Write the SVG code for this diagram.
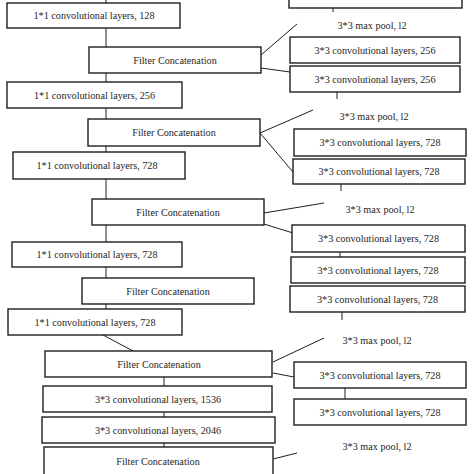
<svg xmlns="http://www.w3.org/2000/svg" width="474" height="474" viewBox="0 0 474 474">
<style>
.box{fill:#fff;stroke:#1e1e1e;stroke-width:1.4}
.t{font-family:"Liberation Serif","Times New Roman",serif;font-size:10.2px;fill:#1e1e1e;text-anchor:middle}
.c line{stroke:#1e1e1e;stroke-width:1}
</style>
<rect width="474" height="474" fill="#fff"/>
<g class="c" id="connectors">
<line x1="106" y1="0" x2="106" y2="3"/>
<line x1="106" y1="28" x2="106" y2="47"/>
<line x1="106" y1="73" x2="106" y2="82"/>
<line x1="106" y1="108" x2="106" y2="119"/>
<line x1="106" y1="146" x2="106" y2="152"/>
<line x1="106" y1="179" x2="106" y2="199"/>
<line x1="106" y1="225" x2="106" y2="242"/>
<line x1="106" y1="267" x2="106" y2="278"/>
<line x1="106" y1="304" x2="106" y2="309"/>
<line x1="103" y1="335" x2="133" y2="351"/>
<line x1="164" y1="377" x2="164" y2="386"/>
<line x1="164" y1="412" x2="164" y2="417"/>
<line x1="164" y1="443" x2="164" y2="447"/>
<line x1="333" y1="8" x2="333" y2="12"/>
<line x1="337" y1="92" x2="337" y2="99"/>
<line x1="341" y1="184" x2="341" y2="191"/>
<line x1="340" y1="252" x2="340" y2="257"/>
<line x1="342" y1="312" x2="342" y2="320"/>
<line x1="345" y1="388" x2="345" y2="399"/>
<line x1="261" y1="55" x2="297" y2="24"/>
<line x1="261" y1="68" x2="290" y2="72"/>
<line x1="260" y1="133" x2="313" y2="110"/>
<line x1="260" y1="133" x2="293" y2="172"/>
<line x1="264" y1="213" x2="324" y2="203"/>
<line x1="264" y1="224" x2="293" y2="233"/>
<line x1="273" y1="362" x2="324" y2="338"/>
<line x1="273" y1="373" x2="294" y2="377"/>
<line x1="273" y1="459" x2="297" y2="453"/>
</g>
<g id="top-right"><rect class="box" x="289" y="-20" width="173" height="28"/></g>
<g id="conv1x1-128"><rect class="box" x="7" y="3" width="173" height="25"/><text class="t" x="94" y="19">1*1 convolutional layers, 128</text></g>
<g id="fc1"><rect class="box" x="89" y="47" width="172" height="26"/><text class="t" x="175" y="63.5">Filter Concatenation</text></g>
<g id="conv1x1-256"><rect class="box" x="7" y="82" width="175" height="26"/><text class="t" x="94.5" y="98.5">1*1 convolutional layers, 256</text></g>
<g id="pool1"><text class="t" x="372" y="28.5">3*3 max pool, l2</text></g>
<g id="conv3x3-256a"><rect class="box" x="290" y="37" width="170" height="26"/><text class="t" x="375" y="53.5">3*3 convolutional layers, 256</text></g>
<g id="conv3x3-256b"><rect class="box" x="290" y="66" width="170" height="26"/><text class="t" x="375" y="82.5">3*3 convolutional layers, 256</text></g>
<g id="pool2"><text class="t" x="374" y="119.5">3*3 max pool, l2</text></g>
<g id="fc2"><rect class="box" x="88" y="119" width="172" height="27"/><text class="t" x="174" y="136">Filter Concatenation</text></g>
<g id="conv1x1-728a"><rect class="box" x="13" y="152" width="172" height="27"/><text class="t" x="97" y="169">1*1 convolutional layers, 728</text></g>
<g id="fc3"><rect class="box" x="92" y="199" width="172" height="26"/><text class="t" x="178" y="215.5">Filter Concatenation</text></g>
<g id="conv3x3-728-1"><rect class="box" x="294" y="129" width="172" height="27"/><text class="t" x="380" y="146">3*3 convolutional layers, 728</text></g>
<g id="conv3x3-728-2"><rect class="box" x="293" y="159" width="172" height="25"/><text class="t" x="379" y="175">3*3 convolutional layers, 728</text></g>
<g id="pool3"><text class="t" x="380" y="212.5">3*3 max pool, l2</text></g>
<g id="conv3x3-728-3"><rect class="box" x="292" y="225" width="173" height="27"/><text class="t" x="378.5" y="242">3*3 convolutional layers, 728</text></g>
<g id="conv3x3-728-4"><rect class="box" x="291" y="257" width="174" height="26"/><text class="t" x="378" y="273.5">3*3 convolutional layers, 728</text></g>
<g id="conv3x3-728-5"><rect class="box" x="290" y="286" width="175" height="26"/><text class="t" x="377.5" y="302.5">3*3 convolutional layers, 728</text></g>
<g id="pool4"><text class="t" x="377" y="343.5">3*3 max pool, l2</text></g>
<g id="conv1x1-728b"><rect class="box" x="12" y="242" width="170" height="25"/><text class="t" x="97" y="258">1*1 convolutional layers, 728</text></g>
<g id="fc4"><rect class="box" x="82" y="278" width="172" height="26"/><text class="t" x="168" y="294.5">Filter Concatenation</text></g>
<g id="conv1x1-728c"><rect class="box" x="8" y="309" width="174" height="26"/><text class="t" x="95" y="325.5">1*1 convolutional layers, 728</text></g>
<g id="fc5"><rect class="box" x="45" y="351" width="227" height="26"/><text class="t" x="159" y="367.5">Filter Concatenation</text></g>
<g id="conv3x3-728-6"><rect class="box" x="294" y="362" width="172" height="26"/><text class="t" x="380" y="378.5">3*3 convolutional layers, 728</text></g>
<g id="conv3x3-728-7"><rect class="box" x="294" y="399" width="172" height="26"/><text class="t" x="380" y="415.5">3*3 convolutional layers, 728</text></g>
<g id="pool5"><text class="t" x="377" y="449.5">3*3 max pool, l2</text></g>
<g id="conv3x3-1536"><rect class="box" x="43" y="386" width="229" height="26"/><text class="t" x="158" y="402.5">3*3 convolutional layers, 1536</text></g>
<g id="conv3x3-2046"><rect class="box" x="42" y="417" width="233" height="26"/><text class="t" x="158" y="433.5">3*3 convolutional layers, 2046</text></g>
<g id="fc6"><rect class="box" x="44" y="447" width="229" height="40"/><text class="t" x="158" y="464.5">Filter Concatenation</text></g>
</svg>
